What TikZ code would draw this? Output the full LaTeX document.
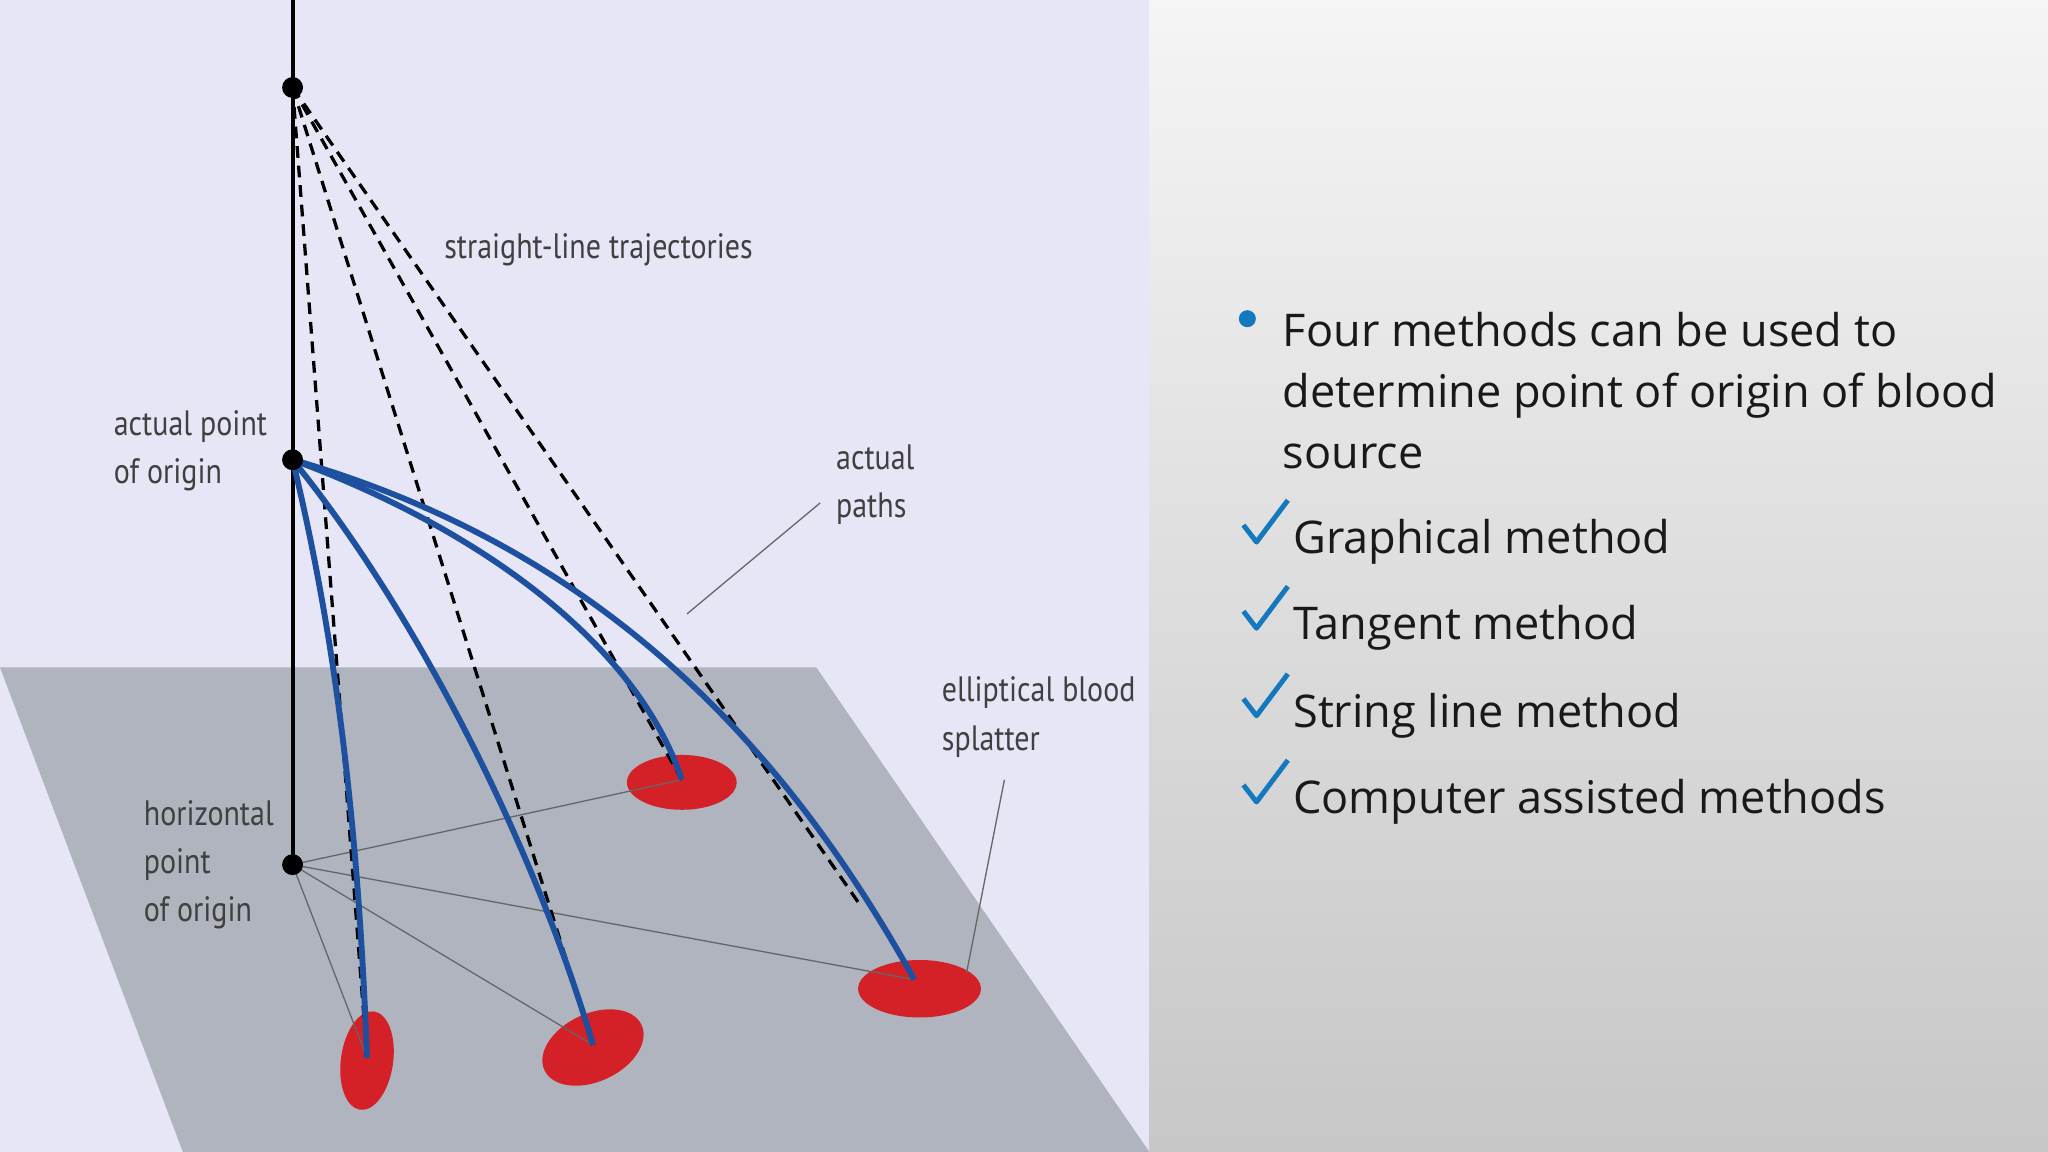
\documentclass[tikz,border=0pt]{standalone}
\usepackage{fontspec}
\setmainfont{Open Sans}
\newfontfamily\labfont{PT Sans}
\definecolor{lav}{RGB}{230,230,246}
\definecolor{floor}{RGB}{176,180,190}
\definecolor{bpath}{RGB}{30,80,160}
\definecolor{red1}{RGB}{212,32,39}
\definecolor{ckc}{RGB}{20,120,190}
\begin{document}
\begin{tikzpicture}[x=1pt,y=-1pt,
  lab/.style={font=\labfont\fontsize{27}{37}\selectfont,text=black!75,align=left,anchor=west,xscale=0.85,inner sep=0},
  itm/.style={font=\fontsize{34.5}{47}\selectfont,text=black!90,anchor=west,align=left,inner sep=0},
  dsh/.style={dash pattern=on 9pt off 6pt,line width=2.5pt},
  bl/.style={draw=bpath,line width=4.5pt},
  thin/.style={draw=black!60,line width=1pt},
  spl/.style={fill=red1},
  ck/.style={draw=ckc,line width=3.8pt,line join=round}]
\useasboundingbox (0,0) rectangle (1568,882);
\shade[top color=white!96!black,bottom color=black!22] (880,0) rectangle (1568,882);
\fill[lav] (0,0) rectangle (880,882);
\fill[floor] (0,511) -- (625,511) -- (880,882) -- (140,882) -- cycle;
\fill[spl] (522,599) ellipse [x radius=42,y radius=21];
\fill[spl,rotate around={-8:(281,812)}] (281,812) ellipse [x radius=20,y radius=38];
\fill[spl,rotate around={25:(454,802)}] (454,802) ellipse [x radius=41,y radius=26];
\fill[spl] (704,757) ellipse [x radius=47,y radius=22];
\coordinate (t) at (224,67);
\coordinate (o) at (224,352);
\coordinate (h) at (224,662);
\coordinate (e1) at (522,597);
\coordinate (e2) at (281,810);
\coordinate (e3) at (454,800);
\coordinate (e4) at (700,750);
\draw[line width=3pt] (224,0) -- (h);
\foreach \e in {e1,e2,e3,e4} \draw[thin] (h) -- (\e);
\draw[dsh] (t) -- (e2);
\draw[dsh] (t) -- (e3);
\draw[dsh] (t) -- (e1);
\draw[dsh] (t) -- (660,695);
\draw[bl] (o) .. controls (260,500) and (275,650) .. (e2);
\draw[bl] (o) .. controls (320,470) and (410,650) .. (e3);
\draw[bl] (o) .. controls (380,410) and (490,500) .. (e1);
\draw[bl] (o) .. controls (460,420) and (600,570) .. (e4);
\foreach \p in {t,o,h} \fill (\p) circle (8);
\draw[thin] (628,385) -- (526,470);
\draw[thin] (769,597) -- (740,745);
\node[lab] (l1) at (340,191) {straight-line trajectories};
\node[lab] (l2) at (87,345) {actual point\\of origin};
\node[lab] (l3) at (640,371) {actual\\paths};
\node[lab] (l4) at (721,549) {elliptical blood\\splatter};
\node[lab] (l5) at (110,662) {horizontal\\point\\of origin};
\fill[ckc] (955,244) circle (6.5);
\node[itm] (b1) at (982,299) {Four methods can be used to\\determine point of origin of blood\\source};
\foreach \y/\t in {412/Graphical method,478/Tangent method,545/String line method,611/Computer assisted methods}{
  \draw[ck] (952,\y-10) -- (962,\y+3) -- (986,\y-29);
  \node[itm] at (990,\y+3) {\t};
}
\end{tikzpicture}
\end{document}
